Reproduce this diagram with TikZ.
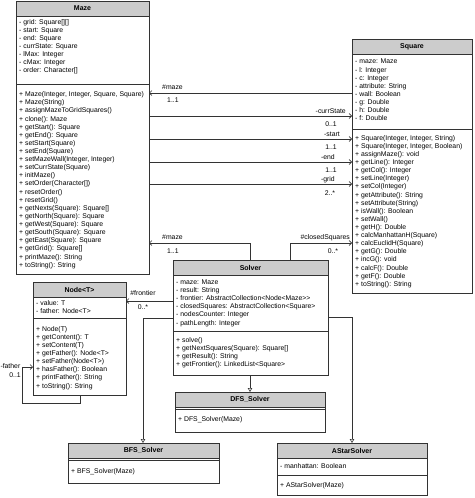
\documentclass[tikz,border=0pt]{standalone}
\usepackage{fontspec}
\setmainfont{Liberation Sans}
\usetikzlibrary{arrows.meta}
\definecolor{hdr}{HTML}{CCCCCC}
\definecolor{ln}{HTML}{333333}
\begin{document}
\begin{tikzpicture}[x=1pt,y=-1pt,
  cls/.style={draw=ln, line width=0.8pt, fill=white, anchor=north west, inner sep=0pt, outer sep=0pt},
  hd/.style={draw=ln, line width=0.8pt, fill=hdr, anchor=north west, inner sep=0pt, outer sep=0pt, minimum height=15, font=\fontsize{7}{8}\selectfont\bfseries},
  txt/.style={anchor=north west, inner sep=0pt, align=left, font=\fontsize{6.85}{8.12}\selectfont},
  lbl/.style={inner sep=0pt, font=\fontsize{6.85}{8}\selectfont},
  sep/.style={draw=ln, line width=0.8pt},
  assoc/.style={draw=ln, line width=0.6pt, -{Straight Barb[length=2.5pt,width=5pt]}},
  gen/.style={draw=ln, line width=0.6pt, -{Triangle[open,length=4pt,width=4.5pt]}}]
\useasboundingbox (0,0) rectangle (474,498);

% ---------- Maze ----------
\node[cls, minimum width=133, minimum height=273] (maze) at (16,1) {};
\node[hd, minimum width=133] (mazeH) at (16,1) {Maze};
\draw[sep] (maze.west |- 0,84) -- (maze.east |- 0,84);
\node[txt] (mazeA) at (19,19) {- grid: Square[][]\\- start: Square\\- end: Square\\- currState: Square\\- lMax: Integer\\- cMax: Integer\\- order: Character[]};
\node[txt] (mazeM) at (19,91.5) {+ Maze(Integer, Integer, Square, Square)\\+ Maze(String)\\+ assignMazeToGridSquares()\\+ clone(): Maze\\+ getStart(): Square\\+ getEnd(): Square\\+ setStart(Square)\\+ setEnd(Square)\\+ setMazeWall(Integer, Integer)\\+ setCurrState(Square)\\+ initMaze()\\+ setOrder(Character[])\\+ resetOrder()\\+ resetGrid()\\+ getNexts(Square): Square[]\\+ getNorth(Square): Square\\+ getWest(Square): Square\\+ getSouth(Square): Square\\+ getEast(Square): Square\\+ getGrid(): Square[]\\+ printMaze(): String\\+ toString(): String};

% ---------- Square ----------
\node[cls, minimum width=120, minimum height=254] (square) at (352,39) {};
\node[hd, minimum width=120] (squareH) at (352,39) {Square};
\draw[sep] (square.west |- 0,129) -- (square.east |- 0,129);
\node[txt] (squareA) at (355,59) {- maze: Maze\\- l: Integer\\- c: Integer\\- attribute: String\\- wall: Boolean\\- g: Double\\- h: Double\\- f: Double};
\node[txt] (squareM) at (355,135) {+ Square(Integer, Integer, String)\\+ Square(Integer, Integer, Boolean)\\+ assignMaze(): void\\+ getLine(): Integer\\+ getCol(): Integer\\+ setLine(Integer)\\+ setCol(Integer)\\+ getAttribute(): String\\+ setAttribute(String)\\+ isWall(): Boolean\\+ setWall()\\+ getH(): Double\\+ calcManhattanH(Square)\\+ calcEuclidH(Square)\\+ getG(): Double\\+ incG(): void\\+ calcF(): Double\\+ getF(): Double\\+ toString(): String};

% ---------- Node<T> ----------
\node[cls, minimum width=93, minimum height=113] (nodeT) at (33,282) {};
\node[hd, minimum width=93] (nodeTH) at (33,282) {Node<T>};
\draw[sep] (nodeT.west |- 0,318) -- (nodeT.east |- 0,318);
\node[txt] (nodeTA) at (36,300) {- value: T\\- father: Node<T>};
\node[txt] (nodeTM) at (36,326) {+ Node(T)\\+ getContent(): T\\+ setContent(T)\\+ getFather(): Node<T>\\+ setFather(Node<T>)\\+ hasFather(): Boolean\\+ printFather(): String\\+ toString(): String};

% ---------- Solver ----------
\node[cls, minimum width=155, minimum height=115] (solver) at (173,260) {};
\node[hd, minimum width=155] (solverH) at (173,260) {Solver};
\draw[sep] (solver.west |- 0,331) -- (solver.east |- 0,331);
\node[txt] (solverA) at (176,279.5) {- maze: Maze\\- result: String\\- frontier: AbstractCollection<Node<Maze>{}>\\- closedSquares: AbstractCollection<Square>\\- nodesCounter: Integer\\- pathLength: Integer};
\node[txt] (solverM) at (176,337) {+ solve()\\+ getNextSquares(Square): Square[]\\+ getResult(): String\\+ getFrontier(): LinkedList<Square>};

% ---------- DFS_Solver ----------
\node[cls, minimum width=150, minimum height=40] (dfs) at (175,392) {};
\node[hd, minimum width=150] (dfsH) at (175,392) {DFS\_Solver};
\draw[sep] (dfs.west |- 0,409.5) -- (dfs.east |- 0,409.5);
\node[txt] (dfsM) at (178,416) {+ DFS\_Solver(Maze)};

% ---------- BFS_Solver ----------
\node[cls, minimum width=151, minimum height=40] (bfs) at (68,443) {};
\node[hd, minimum width=151] (bfsH) at (68,443) {BFS\_Solver};
\draw[sep] (bfs.west |- 0,460.5) -- (bfs.east |- 0,460.5);
\node[txt] (bfsM) at (71,468) {+ BFS\_Solver(Maze)};

% ---------- AStarSolver ----------
\node[cls, minimum width=150, minimum height=52] (astar) at (277,443) {};
\node[hd, minimum width=150] (astarH) at (277,443) {AStarSolver};
\draw[sep] (astar.west |- 0,475) -- (astar.east |- 0,475);
\node[txt] (astarA) at (280,463) {- manhattan: Boolean};
\node[txt] (astarM) at (280,482) {+ AStarSolver(Maze)};

% ---------- Associations ----------
\draw[assoc] (square.west |- 0,93) -- (maze.east |- 0,93);
\node[lbl, anchor=west] (l1) at (162,87) {\#maze};
\node[lbl, anchor=west] (l1m) at (167,100.5) {1..1};

\draw[assoc] (maze.east |- 0,116) -- (square.west |- 0,116);
\node[lbl, anchor=east] (l2) at (346,111) {-currState};
\node[lbl] (l2m) at (331,124.5) {0..1};

\draw[assoc] (maze.east |- 0,139) -- (square.west |- 0,139);
\node[lbl, anchor=east] (l3) at (340,134) {-start};
\node[lbl] (l3m) at (331,147.5) {1..1};

\draw[assoc] (maze.east |- 0,162) -- (square.west |- 0,162);
\node[lbl, anchor=east] (l4) at (335,157) {-end};
\node[lbl] (l4m) at (331,170) {1..1};

\draw[assoc] (maze.east |- 0,184) -- (square.west |- 0,184);
\node[lbl, anchor=east] (l5) at (335,180) {-grid};
\node[lbl] (l5m) at (330,193) {2..*};

\coordinate (cm1) at (250,243);
\draw[assoc] (250,0 |- solver.north) -- (cm1) -- (maze.east |- cm1);
\node[lbl, anchor=west] (l6) at (162,237.5) {\#maze};
\node[lbl, anchor=west] (l6m) at (167,251) {1..1};

\coordinate (cs1) at (290,243);
\draw[assoc] (290,0 |- solver.north) -- (cs1) -- (square.west |- cs1);
\node[lbl, anchor=east] (l7) at (350,237.5) {\#closedSquares};
\node[lbl] (l7m) at (333,251) {0..*};

\draw[assoc] (solver.west |- 0,301) -- (nodeT.east |- 0,301);
\node[lbl] (l8) at (143,293.5) {\#frontier};
\node[lbl] (l8m) at (143,307.5) {0..*};

\coordinate (f1) at (80,403);
\coordinate (f2) at (22,403);
\coordinate (f3) at (22,367);
\draw[assoc] (80,0 |- nodeT.south) -- (f1) -- (f2) -- (f3) -- (nodeT.west |- f3);
\node[lbl, anchor=east] (l9) at (20.5,366) {-father};
\node[lbl] (l9m) at (15,375.5) {0..1};

% ---------- Generalizations ----------
\draw[gen] (250,0 |- solver.south) -- (250,0 |- dfs.north);
\coordinate (g1) at (143,318);
\draw[gen] (solver.west |- g1) -- (g1) -- (g1 |- bfs.north);
\coordinate (g2) at (352,317);
\draw[gen] (solver.east |- g2) -- (g2) -- (g2 |- astar.north);
\end{tikzpicture}
\end{document}
